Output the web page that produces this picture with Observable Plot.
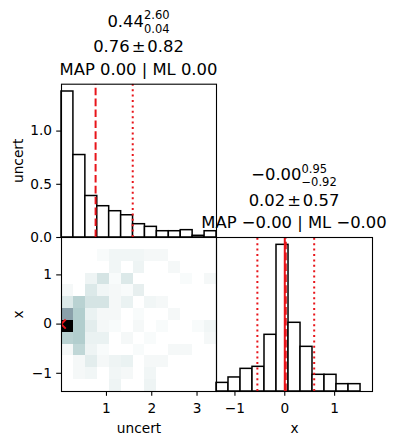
<!DOCTYPE html>
<html><head><meta charset="utf-8">
<script src="https://cdn.jsdelivr.net/npm/d3@7"></script>
<script src="https://cdn.jsdelivr.net/npm/@observablehq/plot@0.6"></script>
<style>
html,body{margin:0;padding:0;background:#fff;}
#wrap{position:relative;width:398px;height:444px;overflow:hidden;font-family:"DejaVu Sans";}
#wrap svg{position:absolute;left:0;top:0;}
</style></head><body><div id="wrap"></div>
<script>
// ---------- data ----------
const uncertEdges = [0.007, 0.270, 0.534, 0.797, 1.060, 1.324, 1.587, 1.850, 2.113, 2.377, 2.640, 2.903, 3.167, 3.430];
const uncertDensity = [1.372, 0.775, 0.390, 0.294, 0.247, 0.209, 0.125, 0.100, 0.059, 0.059, 0.069, 0.016, 0.059];
const xEdges = [-1.370, -1.129, -0.888, -0.648, -0.407, -0.166, 0.075, 0.316, 0.556, 0.797, 1.038, 1.279, 1.520, 1.760];
const xDensity = [0.081, 0.132, 0.213, 0.232, 0.533, 1.379, 0.646, 0.420, 0.157, 0.157, 0.069, 0.069, 0];
// 2D relative density; row 0 = highest x bin, columns = uncert bins
const density2dRows = [
  [0,0,0,0,0,0,0,0,0,0,0,0,0],
  [0,0,0,0.02,0.04,0.04,0.04,0.03,0.03,0,0,0,0],
  [0,0,0,0,0.04,0,0.05,0,0,0.03,0,0,0],
  [0,0,0.05,0.12,0.02,0.10,0,0,0,0,0.02,0,0.03],
  [0.03,0,0.10,0.04,0.03,0.02,0.07,0,0,0,0,0,0],
  [0.10,0.20,0.12,0.12,0.03,0.06,0,0.04,0.03,0,0,0,0],
  [0.38,0.22,0.06,0.03,0.03,0,0.02,0,0,0.03,0,0,0],
  [1.00,0.22,0.08,0.03,0.02,0,0.03,0,0.02,0,0,0.02,0.04],
  [0.20,0.22,0.06,0.06,0,0.03,0,0.02,0,0,0,0,0.03],
  [0.03,0.18,0.05,0.02,0,0,0.02,0,0,0.03,0.03,0,0],
  [0,0.03,0.08,0.03,0.05,0.06,0,0.03,0.03,0,0,0,0],
  [0,0.03,0.04,0,0.04,0.03,0,0.04,0,0,0,0,0],
  [0,0,0,0,0.05,0,0,0.05,0,0,0,0,0]
];
const statMean = [0.76, 0.02];
const statStd = [0.82, 0.57];
const statMap = [0.00, -0.00];
const uncertTicks = [0, 0.5, 1.0];
const uncertXTicks = [1, 2, 3];
const xTicks = [-1, 0, 1];
const titleMedian = ["0.44", "\u22120.00"];
const titleUpper = ["2.60", "0.95"];
const titleLower = ["0.04", "\u22120.92"];
const titleMean = ["0.76", "0.02"];
const titleStd = ["0.82", "0.57"];
const titleMapMl = ["MAP 0.00 | ML 0.00", "MAP \u22120.00 | ML \u22120.00"];

// ---------- layout ----------
const W = 398, H = 444;
const L = 61, M = 216, R = 372, T1 = 83.7, T2 = 237, B = 391;
const FONT = 13.7, TFONT = 16.4, SFONT = 11.5;
const style = `background:transparent;font-family:'DejaVu Sans';font-size:${FONT}px;overflow:visible;color:black;`;
const fmtMinus = d => (d < 0 ? "\u2212" + Math.abs(d) : String(d));
const RED = "#e8141a";
const DASH = "7.6,3.3", DOT = "2,3.4";

function seg(pts, x) {
  for (let k = 1; k < pts.length; k++) if (x <= pts[k][0]) {
    const [x0, y0] = pts[k - 1], [x1, y1] = pts[k];
    return y0 + (y1 - y0) * (x - x0) / (x1 - x0);
  }
  return pts[pts.length - 1][1];
}
const boneR = t => {
  const x = 1 - Math.max(0, Math.min(1, t));
  const r = seg([[0,0],[0.746032,0.652778],[1,1]], x);
  const g = seg([[0,0],[0.365079,0.319444],[0.746032,0.777778],[1,1]], x);
  const b = seg([[0,0],[0.365079,0.444444],[1,1]], x);
  return d3.rgb(r * 255, g * 255, b * 255).formatHex();
};

const uDom = [uncertEdges[0], uncertEdges[uncertEdges.length - 1]];
const xDom = [xEdges[0], xEdges[xEdges.length - 1]];
const uTop = d3.max(uncertDensity) * 1.05;
const xTop = d3.max(xDensity) * 1.05;

const uBars = uncertDensity.map((v, i) => ({x1: uncertEdges[i], x2: uncertEdges[i + 1], y: v}));
const xBars = xDensity.map((v, i) => ({x1: xEdges[i], x2: xEdges[i + 1], y: v}));
const cells = [];
density2dRows.forEach((row, r) => {
  const j = xEdges.length - 2 - r;
  row.forEach((v, i) => cells.push({x1: uncertEdges[i], x2: uncertEdges[i + 1], y1: xEdges[j], y2: xEdges[j + 1], v}));
});

const axisOpts = {tickSize: 4.8, strokeWidth: 1.1, fontSize: FONT, label: null};

// Panel A: uncert histogram
const panelA = Plot.plot({
  width: W, height: H, marginLeft: L, marginRight: W - M, marginTop: T1, marginBottom: H - T2,
  style,
  x: {domain: uDom, axis: null},
  y: {domain: [0, uTop], axis: null},
  marks: [
    Plot.rectY(uBars, {x1: "x1", x2: "x2", y: "y", fill: "white", stroke: "black", strokeWidth: 1.5}),
    Plot.ruleX([statMean[0]], {y1: 0, y2: uTop, stroke: RED, strokeWidth: 2, strokeDasharray: DASH, clip: true}),
    Plot.ruleX([statMean[0] - statStd[0], statMean[0] + statStd[0]], {y1: 0, y2: uTop, stroke: RED, strokeWidth: 2, strokeDasharray: DOT, clip: true}),
    Plot.frame({stroke: "black", strokeWidth: 1.1}),
    Plot.axisY({...axisOpts, ticks: uncertTicks, tickFormat: d3.format(".1f"), tickPadding: 4.7}),
    Plot.text(["uncert"], {x: uDom[0], y: uTop / 2, text: d => d, rotate: -90, dx: -43, fontSize: FONT, fill: "black"})
  ]
});

// Panel B: 2D histogram
const panelB = Plot.plot({
  width: W, height: H, marginLeft: L, marginRight: W - M, marginTop: T2, marginBottom: H - B,
  style,
  x: {domain: uDom, axis: null},
  y: {domain: xDom, axis: null},
  color: {type: "linear", domain: [0, 1], interpolate: boneR},
  marks: [
    Plot.rect(cells, {x1: "x1", x2: "x2", y1: "y1", y2: "y2", fill: "v", shapeRendering: "crispEdges"}),
    Plot.dot([[statMap[0], statMap[1]]], {x: d => d[0], y: d => d[1], symbol: "times", r: 4.2, stroke: RED, strokeWidth: 2, clip: true}),
    Plot.frame({stroke: "black", strokeWidth: 1.1}),
    Plot.axisX({...axisOpts, ticks: uncertXTicks, tickFormat: fmtMinus, tickPadding: 7}),
    Plot.axisY({...axisOpts, ticks: xTicks, tickFormat: fmtMinus, tickPadding: 4.7}),
    Plot.text(["uncert"], {x: (uDom[0] + uDom[1]) / 2, y: xDom[0], text: d => d, dy: 37.1, fontSize: FONT, fill: "black"}),
    Plot.text(["x"], {x: uDom[0], y: (xDom[0] + xDom[1]) / 2, text: d => d, rotate: -90, dx: -43, fontSize: FONT, fill: "black"})
  ]
});

// Panel C: x histogram
const panelC = Plot.plot({
  width: W, height: H, marginLeft: M, marginRight: W - R, marginTop: T2, marginBottom: H - B,
  style,
  x: {domain: xDom, axis: null},
  y: {domain: [0, xTop], axis: null},
  marks: [
    Plot.rectY(xBars.filter(d => d.y > 0), {x1: "x1", x2: "x2", y: "y", fill: "white", stroke: "black", strokeWidth: 1.5}),
    Plot.ruleX([statMap[1]], {y1: 0, y2: xTop, stroke: RED, strokeWidth: 2, clip: true}),
    Plot.ruleX([statMean[1]], {y1: 0, y2: xTop, stroke: RED, strokeWidth: 2, strokeDasharray: DASH, clip: true}),
    Plot.ruleX([statMean[1] - statStd[1], statMean[1] + statStd[1]], {y1: 0, y2: xTop, stroke: RED, strokeWidth: 2, strokeDasharray: DOT, clip: true}),
    Plot.frame({stroke: "black", strokeWidth: 1.1}),
    Plot.axisX({...axisOpts, ticks: xTicks, tickFormat: fmtMinus, tickPadding: 7}),
    Plot.text(["x"], {x: (xDom[0] + xDom[1]) / 2, y: 0, text: d => d, dy: 37.1, fontSize: FONT, fill: "black"})
  ]
});

const wrap = document.getElementById("wrap");
wrap.append(panelA, panelB, panelC);

// ---------- titles ----------
const tsvg = d3.select(wrap).append("svg").attr("width", W).attr("height", H)
  .style("font-family", "'DejaVu Sans'").attr("fill", "black");

function drawTitle(k, cx, top) {
  const g = tsvg.append("g");
  // line 1: median with upper / lower stacked
  const main = g.append("text").attr("font-size", TFONT).attr("y", top - 57).text(titleMedian[k]);
  const sup = g.append("text").attr("font-size", SFONT).attr("y", top - 64.3).text(titleUpper[k]);
  const sub = g.append("text").attr("font-size", SFONT).attr("y", top - 50.7).text(titleLower[k]);
  const wm = main.node().getComputedTextLength();
  const ws = Math.max(sup.node().getComputedTextLength(), sub.node().getComputedTextLength());
  const x0 = cx - (wm + ws) / 2;
  main.attr("x", x0); sup.attr("x", x0 + wm); sub.attr("x", x0 + wm);
  // line 2: mean ± std
  const t2 = g.append("text").attr("font-size", TFONT).attr("x", cx).attr("y", top - 31.4).attr("text-anchor", "middle");
  t2.append("tspan").text(titleMean[k]);
  t2.append("tspan").attr("dx", 2).text("\u00b1");
  t2.append("tspan").attr("dx", 2).text(titleStd[k]);
  // line 3
  g.append("text").attr("font-size", TFONT).attr("x", cx).attr("y", top - 8.7).attr("text-anchor", "middle").text(titleMapMl[k]);
}
drawTitle(0, (L + M) / 2, T1);
drawTitle(1, (M + R) / 2, T2);
</script></body></html>
